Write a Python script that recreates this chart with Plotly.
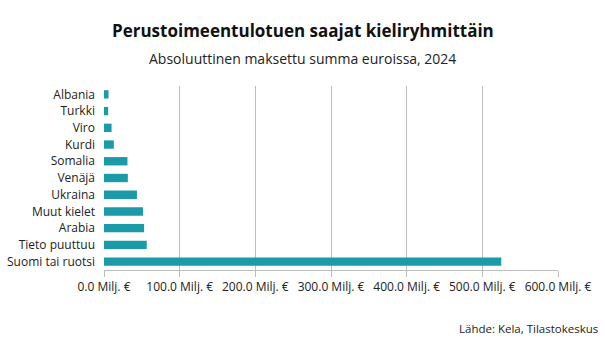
import plotly.graph_objects as go

# Paid basic social assistance by language group, million euros (2024)
languages = ["Suomi tai ruotsi", "Tieto puuttuu", "Arabia", "Muut kielet", "Ukraina",
             "Venäjä", "Somalia", "Kurdi", "Viro", "Turkki", "Albania"]
amounts_meur = [525, 56.5, 53, 51.5, 43.5, 31.5, 31, 13, 10, 5.5, 6]
tick_values = [0, 100, 200, 300, 400, 500, 600]
tick_labels = [f"{v:.1f} Milj. €" for v in tick_values]

FONT = "Open Sans"
BAR = "#1b9ba8"
GRID = "#bdbdbd"

W, H = 605, 340
ML, MR, MT, MB = 104, 47, 86, 70
PW, PH = W - ML - MR, H - MT - MB


def px_to_paper(px_x, px_y):
    """Convert page pixel coordinates to plot-domain coordinates."""
    return (px_x - ML) / PW, 1 - (px_y - MT) / PH


fig = go.Figure(go.Bar(
    x=amounts_meur, y=languages, orientation="h",
    marker=dict(color=BAR, line=dict(width=0)),
    width=0.5,
))

tx, ty = px_to_paper(302.5, 30)
sx, sy = px_to_paper(302.5, 58)
fx, fy = px_to_paper(600, 328)

fig.update_layout(
    width=W, height=H,
    margin=dict(l=ML, r=MR, t=MT, b=MB),
    paper_bgcolor="white", plot_bgcolor="white",
    font=dict(family=FONT, size=12, color="#222"),
    showlegend=False,
    annotations=[
        dict(text="<b>Perustoimeentulotuen saajat kieliryhmittäin</b>", x=tx, y=ty,
             xref="paper", yref="paper", showarrow=False, yanchor="middle",
             font=dict(size=17, color="#111")),
        dict(text="Absoluuttinen maksettu summa euroissa, 2024", x=sx, y=sy,
             xref="paper", yref="paper", showarrow=False, yanchor="middle",
             font=dict(size=14, color="#222")),
        dict(text="Lähde: Kela, Tilastokeskus", x=fx, y=fy,
             xref="paper", yref="paper", showarrow=False, xanchor="right", yanchor="middle",
             font=dict(size=11.5, color="#222")),
    ],
)

fig.update_xaxes(
    range=[0, 600], tickvals=tick_values, ticktext=tick_labels,
    showgrid=True, gridcolor=GRID, gridwidth=1,
    showline=True, linecolor=GRID, linewidth=1,
    ticks="outside", ticklen=6, tickcolor=GRID,
    zeroline=False, automargin=False,
    tickfont=dict(size=12, color="#222"),
)
fig.update_yaxes(
    categoryorder="array", categoryarray=languages,
    showgrid=False, ticks="", showline=False,
    ticklabelstandoff=8, automargin=False,
    tickfont=dict(size=12, color="#222"),
)

fig.write_html("out.html")
